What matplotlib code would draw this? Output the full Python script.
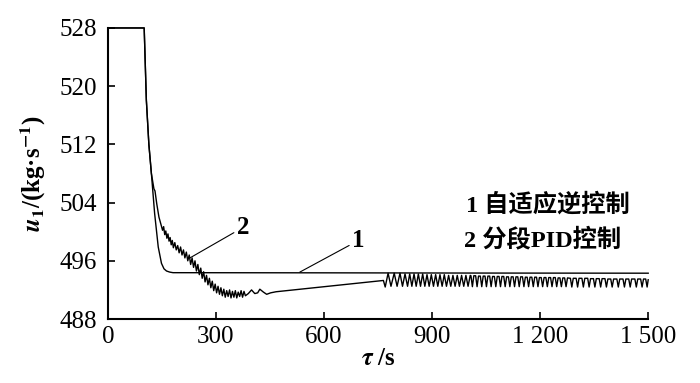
import numpy as np
import matplotlib
matplotlib.use("Agg")
import matplotlib.pyplot as plt

plt.rcParams['font.family'] = ['Liberation Serif', 'Noto Sans CJK SC']
plt.rcParams['mathtext.fontset'] = 'stix'

# curve 1: adaptive inverse control
c1_t = [0, 101, 107, 114, 121, 130, 140, 149, 156, 163, 172, 181, 600, 1000, 1500]
c1_u = [528, 528, 518.1, 512.0, 508.0, 502.5, 497.9, 495.65, 494.9, 494.6, 494.45, 494.37, 494.35, 494.32, 494.3]

c2_drop = [(0, 528), (101, 528), (107, 518.1), (114, 512.0), (121, 508.0), (128, 505.9),
           (131, 505.6), (136, 503.8), (142, 502.0), (148, 500.9)]
c2_wiggle = [(152, 500.2), (155, 500.7), (158, 499.6), (161, 500.1), (164, 499.1), (167, 499.7),
             (170, 498.7), (173, 499.2), (176, 498.2), (179, 498.8), (182, 497.8), (186, 498.5),
             (190, 497.5), (194, 498.1), (198, 497.1), (202, 497.9), (206, 496.8), (210, 497.5),
             (214, 496.4), (218, 497.2), (222, 496.0), (226, 496.8), (230, 495.5), (234, 496.4),
             (238, 495.1), (242, 496.0), (246, 494.6), (250, 495.5), (254, 494.1), (258, 495.0),
             (262, 493.6), (266, 494.5), (270, 493.1), (274, 494.0), (278, 492.7), (282, 493.6),
             (286, 492.3), (290, 493.2), (294, 491.9), (298, 492.8), (302, 491.6), (306, 492.5),
             (310, 491.4), (314, 492.3), (318, 491.2), (322, 492.1), (326, 491.0), (330, 491.9),
             (334, 491.1), (338, 492.0), (342, 490.9), (346, 491.8), (350, 491.0), (354, 491.9),
             (358, 490.9), (362, 491.7), (366, 491.1), (370, 491.9), (374, 491.0), (378, 491.8),
             (382, 491.2)]
c2_slow = [(390, 491.5), (399, 492.0), (408, 491.5), (416, 491.6), (422, 492.1), (432, 491.7),
           (441, 491.4), (452, 491.6), (467, 491.75)]
c2_osc = [(765, 493.3), (770, 492.4), (778, 494.3), (786, 492.5), (795, 494.3), (803, 492.5),
          (811, 494.3), (818, 492.5), (825, 494.2), (832, 492.5), (838, 494.2), (844, 492.5),
          (850, 494.2), (856, 492.5), (862, 494.2), (868, 492.5), (874, 494.2), (880, 492.5),
          (886, 494.1), (892, 492.5), (898, 494.1), (904, 492.5), (910, 494.1), (916, 492.5),
          (922, 494.1), (928, 492.5), (934, 494.1), (940, 492.5), (946, 494.0), (952, 492.5),
          (958, 494.0), (964, 492.5), (970, 494.0), (976, 492.5), (982, 494.0), (988, 492.5),
          (994, 494.0), (1000, 492.5), (1006, 494.0),
          (1008, 493.95), (1012, 492.45), (1016, 493.95), (1021, 493.95), (1025, 492.45), (1029, 493.9),
          (1034, 493.9), (1038, 492.45), (1042, 493.9), (1047, 493.9), (1051, 492.45), (1055, 493.9),
          (1060, 493.9), (1064, 492.45), (1068, 493.85), (1073, 493.85), (1077, 492.45), (1081, 493.85),
          (1086, 493.85), (1090, 492.45), (1094, 493.85), (1099, 493.85), (1103, 492.45), (1107, 493.8),
          (1112, 493.8), (1116, 492.45), (1120, 493.8), (1125, 493.8), (1129, 492.45), (1133, 493.8),
          (1138, 493.8), (1142, 492.45), (1146, 493.8), (1151, 493.8), (1155, 492.45), (1159, 493.75),
          (1164, 493.75), (1168, 492.45), (1172, 493.75), (1177, 493.75), (1181, 492.45), (1185, 493.75),
          (1190, 493.75), (1194, 492.45), (1198, 493.7), (1203, 493.7), (1207, 492.45), (1211, 493.7),
          (1216, 493.7), (1220, 492.45), (1224, 493.7), (1229, 493.7), (1233, 492.45), (1237, 493.7),
          (1242, 493.7), (1246, 492.45), (1250, 493.65), (1255, 493.65), (1259, 492.45), (1263, 493.65),
          (1268, 493.65), (1272, 492.45), (1276, 493.65),
          (1284, 493.6), (1288, 492.4), (1292, 493.6), (1300, 493.6), (1304, 492.4), (1308, 493.6),
          (1316, 493.6), (1320, 492.4), (1324, 493.6), (1332, 493.6), (1336, 492.4), (1340, 493.55),
          (1348, 493.55), (1352, 492.4), (1356, 493.55), (1364, 493.55), (1368, 492.4), (1372, 493.55),
          (1380, 493.55), (1384, 492.4), (1388, 493.5), (1396, 493.5), (1400, 492.4), (1404, 493.5),
          (1413, 493.5), (1417, 492.4), (1421, 493.5), (1430, 493.5), (1434, 492.4), (1438, 493.5),
          (1446, 493.5), (1450, 492.4), (1454, 493.5), (1463, 493.5), (1467, 492.4), (1471, 493.5),
          (1479, 493.5), (1483, 492.4), (1487, 493.5), (1493, 493.5), (1497, 492.4), (1500, 493.4)]

c2 = np.array(c2_drop + c2_wiggle + c2_slow + c2_osc)

xticks = [0, 300, 600, 900, 1200, 1500]
xtick_labels = ["0", "300", "600", "900", "1 200", "1 500"]
yticks = [488, 496, 504, 512, 520, 528]

fig = plt.figure(figsize=(7, 3.83), dpi=100)
ax = fig.add_axes([0.154, 0.167, 0.772, 0.76])

ax.plot(c1_t, c1_u, color='black', lw=1.0, clip_on=False)
ax.plot(c2[:, 0], c2[:, 1], color='black', lw=1.0, clip_on=False)

ax.set_xlim(0, 1500)
ax.set_ylim(488, 528)
ax.set_xticks(xticks)
ax.set_xticklabels(xtick_labels)
ax.set_yticks(yticks)
ax.tick_params(direction='in', length=5, width=1.2, labelsize=18)
ax.tick_params(axis='x', pad=5)
ax.tick_params(axis='y', pad=8)
ax.spines['top'].set_visible(False)
ax.spines['right'].set_visible(False)
ax.spines['left'].set_linewidth(1.5)
ax.spines['bottom'].set_linewidth(1.5)

ax.set_xlabel(r"$\mathbfit{\tau}$ /s", fontsize=18, fontweight='bold', labelpad=-1)
ax.set_ylabel(r"$\mathbfit{u}_{\mathbf{1}}$/(kg·s$^{\mathbf{-1}}$)", fontsize=18, fontweight='bold', labelpad=8)

# curve labels with leader lines
ax.annotate("1", xy=(533, 494.45), xytext=(695, 497.2), fontsize=18, fontweight='bold',
            ha='center', va='bottom', arrowprops=dict(arrowstyle='-', color='black', lw=0.8,
                                                      shrinkA=0, shrinkB=0))
ax.annotate("2", xy=(228, 496.4), xytext=(375, 499.0), fontsize=18, fontweight='bold',
            ha='center', va='bottom', arrowprops=dict(arrowstyle='-', color='black', lw=0.8,
                                                      shrinkA=0, shrinkB=0))

ax.text(995, 503.7, "1 自适应逆控制", fontsize=17.5, fontweight='bold', ha='left', va='center')
ax.text(990, 499.0, "2 分段PID控制", fontsize=17.5, fontweight='bold', ha='left', va='center')

fig.savefig("out.png", dpi=100)
